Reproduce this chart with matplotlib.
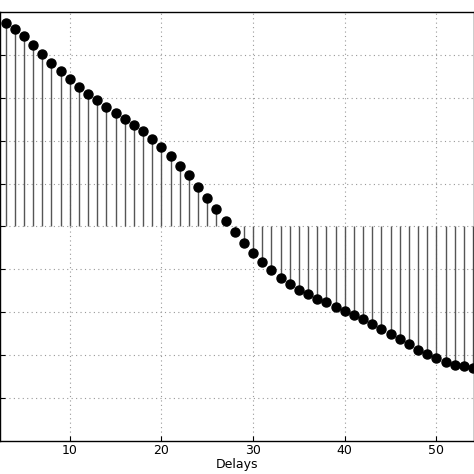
import matplotlib
matplotlib.use("Agg")
import matplotlib.pyplot as plt

lags = list(range(3, 55))
acf = [0.475, 0.460, 0.443, 0.423, 0.403, 0.382, 0.362, 0.343, 0.325, 0.308,
       0.294, 0.279, 0.265, 0.251, 0.237, 0.222, 0.205, 0.186, 0.165, 0.142,
       0.119, 0.093, 0.066, 0.040, 0.012, -0.013, -0.038, -0.061, -0.082, -0.102,
       -0.119, -0.133, -0.147, -0.157, -0.168, -0.177, -0.187, -0.196, -0.206, -0.216,
       -0.228, -0.239, -0.251, -0.263, -0.275, -0.287, -0.298, -0.307, -0.315, -0.322,
       -0.326, -0.330]
xticks = [10, 20, 30, 40, 50]

fig = plt.figure(figsize=(4.74, 4.74), dpi=100)
ax = fig.add_axes([0, 1 - 441 / 474, 1, 429 / 474])

ax.vlines(lags, 0, acf, color="#555555", linewidth=1.0)
ax.plot(lags, acf, "o", color="black", markersize=6.5)

ax.set_xlim(2.4, 54.1)
ax.set_ylim(-0.5, 0.5)
ax.set_xticks(xticks)
ax.set_yticks([-0.4, -0.3, -0.2, -0.1, 0, 0.1, 0.2, 0.3, 0.4])
ax.set_yticklabels([])
ax.tick_params(direction="in", labelsize=9, pad=2)
ax.grid(True, linestyle=(0, (1, 3)), color="#999999", linewidth=0.8)
ax.set_xlabel("Delays", fontsize=9, labelpad=1)
for s in ax.spines.values():
    s.set_linewidth(1.0)

fig.savefig("out.png", dpi=100)
